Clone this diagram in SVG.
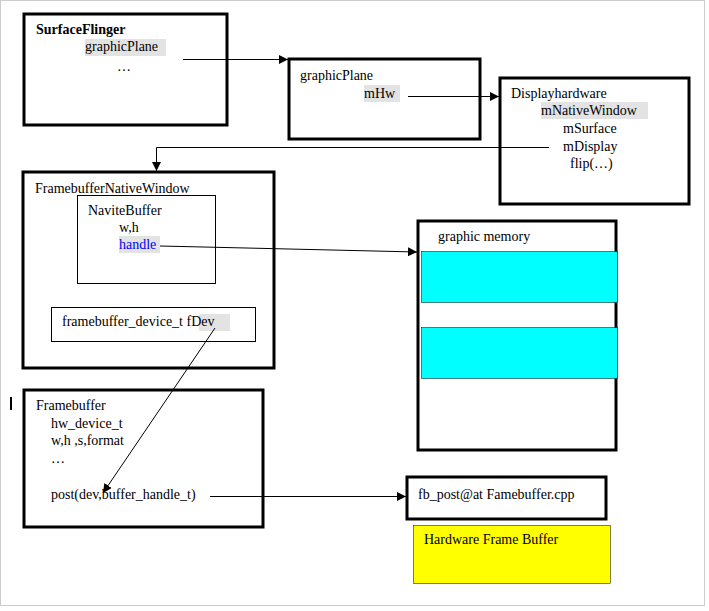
<svg xmlns="http://www.w3.org/2000/svg" width="709" height="611" viewBox="0 0 709 611" font-family="'Liberation Serif', 'Times New Roman', serif" font-size="14">
<defs>
<style>
.b{fill:#fff;stroke:#000;stroke-width:3}
.t{fill:#fff;stroke:#000;stroke-width:1}
.hl{fill:#e3e3e3}
.c line,.c path{stroke:#000;stroke-width:1;fill:none;marker-end:url(#a)}
</style>
<marker id="a" viewBox="0 0 10 10" refX="10" refY="5" markerWidth="9" markerHeight="9" orient="auto" markerUnits="userSpaceOnUse"><path d="M0,0L10,5L0,10z" fill="#000"/></marker>
</defs>
<rect x="0" y="0" width="709" height="611" fill="#fff"/>
<rect x="0.5" y="0.5" width="704" height="605" fill="none" stroke="#ccc"/>
<line x1="11" y1="397" x2="11" y2="410" stroke="#000" stroke-width="2"/>
<g id="surfaceflinger"><rect class="b" x="24" y="14" width="203" height="111"/>
<text x="36" y="34" font-weight="bold">SurfaceFlinger</text>
<rect class="hl" x="85" y="39" width="81" height="17"/><text x="85" y="51">graphicPlane</text>
<text x="117" y="71">…</text></g>
<g id="graphicplane"><rect class="b" x="289" y="59" width="191" height="80"/>
<text x="300" y="80">graphicPlane</text>
<rect class="hl" x="364" y="85" width="36" height="17"/><text x="364" y="98">mHw</text></g>
<g id="displayhardware"><rect class="b" x="500" y="78" width="189" height="126"/>
<text x="511" y="98">Displayhardware</text>
<rect class="hl" x="541" y="102" width="107" height="17"/><text x="541" y="115">mNativeWindow</text>
<text x="563" y="133">mSurface</text><text x="563" y="151">mDisplay</text><text x="570" y="168">flip(…)</text></g>
<g id="fbnativewindow"><rect class="b" x="23" y="172" width="251" height="196"/>
<text x="35" y="193">FramebufferNativeWindow</text></g>
<g id="navitebuffer"><rect class="t" x="77.5" y="195.5" width="138" height="88"/>
<text x="88" y="215">NaviteBuffer</text><text x="119" y="232">w,h</text>
<rect class="hl" x="119" y="236" width="41" height="17"/><text x="119" y="249" fill="#0000ff">handle</text></g>
<g id="fdev"><rect class="t" x="51.5" y="307.5" width="204" height="34"/>
<rect class="hl" x="199" y="314" width="31" height="17"/>
<text x="62" y="326">framebuffer_device_t fDev</text></g>
<g id="graphicmemory"><rect class="b" x="418" y="221" width="198" height="229"/>
<text x="438" y="241">graphic memory</text>
<rect x="421.5" y="251.5" width="196" height="51" fill="#00ffff" stroke="#000" stroke-width="0.5"/>
<rect x="421.5" y="327.5" width="196" height="51" fill="#00ffff" stroke="#000" stroke-width="0.5"/></g>
<g id="framebuffer"><rect class="b" x="24" y="390" width="239" height="137"/>
<text x="36" y="410">Framebuffer</text><text x="51" y="428">hw_device_t</text>
<text x="51" y="445">w,h ,s,format</text><text x="51" y="463">…</text>
<text x="51" y="499">post(dev,buffer_handle_t)</text></g>
<g id="fbpost"><rect class="b" x="407" y="477" width="199" height="42"/>
<text x="418" y="499">fb_post@at Famebuffer.cpp</text></g>
<g id="hwfb"><rect x="413.5" y="525.5" width="197" height="58" fill="#ffff00" stroke="#000" stroke-width="0.5"/>
<text x="424" y="544">Hardware Frame  Buffer</text></g>
<g class="c">
<line x1="183" y1="59.5" x2="288" y2="59.5"/>
<line x1="408" y1="96.5" x2="499" y2="96.5"/>
<path d="M549,147.5H156.5V171"/>
<line x1="160" y1="246" x2="417" y2="252"/>
<line x1="215" y1="328" x2="103" y2="493"/>
<line x1="210" y1="496.5" x2="406" y2="496.5"/>
</g>
</svg>
